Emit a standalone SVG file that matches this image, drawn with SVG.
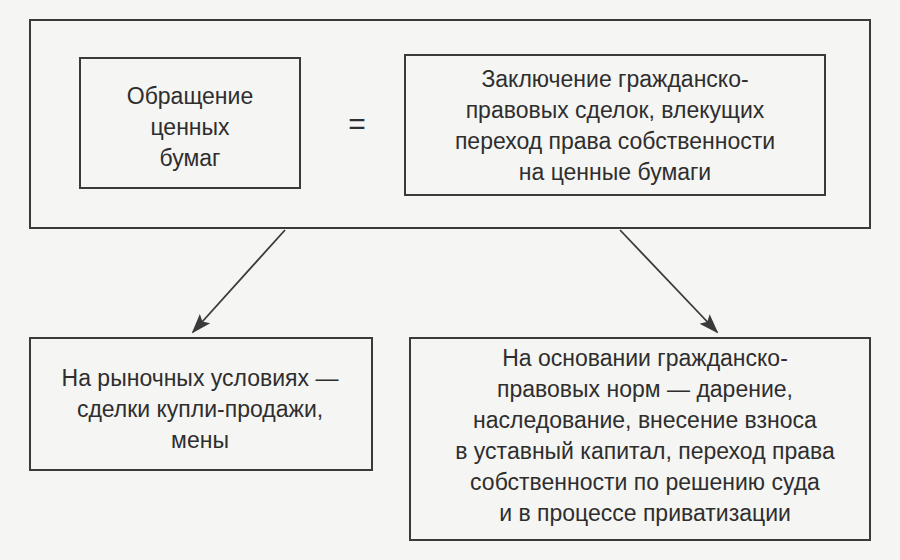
<svg xmlns="http://www.w3.org/2000/svg" width="900" height="560" viewBox="0 0 900 560">
<defs>
<style>
.b{fill:none;stroke:#3a3a3a;stroke-width:2}
.t{font-family:"Liberation Sans",Arial,sans-serif;font-size:23px;fill:#2e2e2e;text-anchor:middle}
.c{stroke:#3a3a3a;stroke-width:1.8;fill:none}
</style>
<marker id="a" markerWidth="20" markerHeight="16" refX="18" refY="7" orient="auto" markerUnits="userSpaceOnUse" viewBox="0 0 20 14">
<path d="M0,0 L20,7 L0,14 L4,7 z" fill="#3a3a3a"/>
</marker>
</defs>
<rect width="900" height="560" fill="#f5f5f3"/>
<g id="outer"><rect class="b" x="30" y="20" width="840" height="208"/></g>
<g id="n1"><rect class="b" x="80" y="58" width="220" height="130"/>
<text class="t" x="190" y="104">Обращение</text><text class="t" x="190" y="135">ценных</text><text class="t" x="190" y="166">бумаг</text></g>
<g id="eq"><text class="t" x="357" y="134" style="font-size:30px">=</text></g>
<g id="n2"><rect class="b" x="405" y="55" width="420" height="140"/>
<text class="t" x="615" y="87">Заключение гражданско-</text><text class="t" x="615" y="118">правовых сделок, влекущих</text><text class="t" x="615" y="149">переход права собственности</text><text class="t" x="615" y="180">на ценные бумаги</text></g>
<g id="connectors">
<line class="c" x1="285" y1="230" x2="193" y2="332" marker-end="url(#a)"/>
<line class="c" x1="620" y1="230" x2="717" y2="332" marker-end="url(#a)"/>
</g>
<g id="n3"><rect class="b" x="30" y="338" width="342" height="132"/>
<text class="t" x="200" y="386">На рыночных условиях —</text><text class="t" x="200" y="417">сделки купли-продажи,</text><text class="t" x="200" y="448">мены</text></g>
<g id="n4"><rect class="b" x="410" y="338" width="460" height="202"/>
<text class="t" x="645" y="366">На основании гражданско-</text><text class="t" x="645" y="397">правовых норм — дарение,</text><text class="t" x="645" y="428">наследование, внесение взноса</text><text class="t" x="645" y="459">в уставный капитал, переход права</text><text class="t" x="645" y="490">собственности по решению суда</text><text class="t" x="645" y="521">и в процессе приватизации</text></g>
</svg>
